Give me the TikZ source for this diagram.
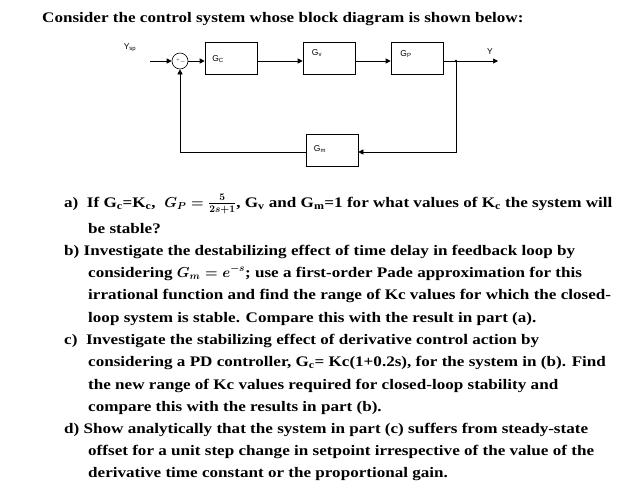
\documentclass[tikz,border=0pt]{standalone}
\usepackage{fontspec}
\setmainfont{Liberation Serif}[FakeStretch=1.17]
\newfontfamily\blockfont{Liberation Sans}
\usetikzlibrary{arrows.meta}
\begin{document}
\begin{tikzpicture}[x=1pt,y=-1pt,
  blk/.style={draw,minimum width=52pt,minimum height=32pt,inner sep=0pt},
  lbl/.style={font=\blockfont\fontsize{8.5}{9}\selectfont},
  arr/.style={-{Triangle[length=5pt,width=5pt]},line width=0.6pt},
  txt/.style={anchor=base west,inner sep=0pt,font=\bfseries\fontsize{14.6}{16}\selectfont\boldmath}]
\useasboundingbox (0,0) rectangle (622,496);
\node[txt] (t0) at (42,22) {Consider the control system whose block diagram is shown below:};
% diagram
\coordinate (in) at (150,61);
\node[draw,circle,minimum size=16pt,inner sep=0pt,line width=0.6pt] (sum) at (180,61) {};
\node[font=\fontsize{5}{5}\selectfont] at (178,60) {+};
\node[font=\fontsize{6}{6}\selectfont] at (183,62) {\_};
\node[blk,line width=0.6pt] (gc) at (231,58) {};
\node[lbl] at (218,59) {G\textsubscript{C}};
\node[blk,line width=0.6pt] (gv) at (329,58) {};
\node[lbl] at (317,53) {G\textsubscript{v}};
\node[blk,line width=0.6pt] (gp) at (417,58) {};
\node[lbl] at (406,54) {G\textsubscript{P}};
\node[blk,line width=0.6pt] (gm) at (332,150) {};
\node[lbl] at (320,149) {G\textsubscript{m}};
\coordinate (br) at (456,61);
\coordinate (out) at (498,61);
\node[lbl] (ysp) at (130,48) {Y\textsubscript{sp}};
\node[lbl] (y) at (490,52) {Y};
\draw[arr] (in) -- (sum);
\draw[arr] (sum) -- (gc.west |- sum);
\draw[arr] (gc.east |- sum) -- (gv.west |- sum);
\draw[arr] (gv.east |- sum) -- (gp.west |- sum);
\draw[line width=0.6pt] (gp.east |- sum) -- (br);
\draw[arr] (br) -- (out);
\fill (br) circle (1.3pt);
\draw[arr] (br) |- (gm.east |- 0,152);
\draw[arr] (gm.west |- 0,152) -| (sum);
% text
\node[txt] at (64,207) {a)\ \ If G\textsubscript{c}=K\textsubscript{c},\ \ $G_P=\frac{5}{2s+1}$, G\textsubscript{v} and G\textsubscript{m}=1 for what values of K\textsubscript{c} the system will};
\node[txt] at (88,233) {be stable?};
\node[txt] at (64,255) {b)\ Investigate the destabilizing effect of time delay in feedback loop by};
\node[txt] at (88,277) {considering $G_m=e^{-s}$; use a first-order Pade approximation for this};
\node[txt] at (88,299) {irrational function and find the range of Kc values for which the closed-};
\node[txt] at (88,322) {loop system is stable. Compare this with the result in part (a).};
\node[txt] at (64,344) {c)\ \ Investigate the stabilizing effect of derivative control action by};
\node[txt] at (88,366) {considering a PD controller, G\textsubscript{c}= Kc(1+0.2s), for the system in (b). Find};
\node[txt] at (88,389) {the new range of Kc values required for closed-loop stability and};
\node[txt] at (88,411) {compare this with the results in part (b).};
\node[txt] at (64,433) {d)\ Show analytically that the system in part (c) suffers from steady-state};
\node[txt] at (88,455) {offset for a unit step change in setpoint irrespective of the value of the};
\node[txt] at (88,477) {derivative time constant or the proportional gain.};
\end{tikzpicture}
\end{document}
